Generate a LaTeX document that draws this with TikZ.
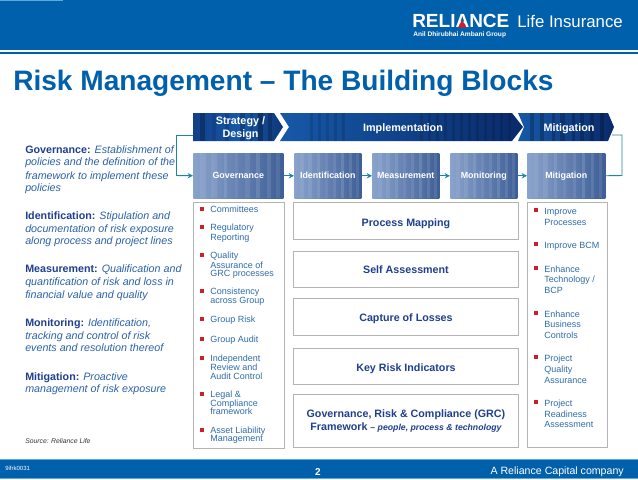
\documentclass[tikz,border=0pt]{standalone}
\usepackage{fontspec}
\setmainfont{Liberation Sans}
\usetikzlibrary{calc,arrows.meta}
\definecolor{hdr}{HTML}{0060AC}
\definecolor{hdrL}{HTML}{5FA8DC}
\definecolor{navy}{HTML}{1F3F8F}
\definecolor{midb}{HTML}{2A62A8}
\definecolor{teal}{HTML}{1A86A8}
\definecolor{boxL}{HTML}{8AA3CC}
\definecolor{boxR}{HTML}{3D5E96}
\definecolor{frame}{HTML}{B4B4B4}
\definecolor{bull}{HTML}{C8202F}
\definecolor{lst}{HTML}{2F6CA8}
\definecolor{banA}{HTML}{123F8A}
\definecolor{banB}{HTML}{1659A8}
\definecolor{banC}{HTML}{0F3678}
\definecolor{banD}{HTML}{0A2A6A}
\newcommand{\fpx}[1]{\fontsize{\dimexpr#1pt*3/4\relax}{\dimexpr#1pt*3/4\relax}\selectfont}
\tikzset{
  x=0.75pt,y=-0.75pt,
  stripebox/.style={inner sep=0pt,anchor=north west,minimum height=33.75pt,
    text=white,font=\fpx{8.9}\bfseries,left color=boxL,right color=boxR,
    path picture={
      \foreach \a/\b/\o in {.08/.14/.07,.2/.26/.09,.34/.38/.10,.46/.5/.07,.58/.63/.09,.7/.74/.12,.82/.86/.10,.92/.96/.09}{
        \fill[white,opacity=\o] ($(path picture bounding box.north west)!\a!(path picture bounding box.north east)$)
          rectangle ($(path picture bounding box.south west)!\b!(path picture bounding box.south east)$);}
    }},
  framebox/.style={draw=frame,line width=0.7pt,fill=white,inner sep=0pt,anchor=north west},
  midtext/.style={font=\fpx{10.7}\bfseries,text=navy,align=center},
  lead/.style={anchor=base west,inner sep=0pt,font=\fpx{10.7},text=midb},
  item/.style={anchor=base west,inner sep=0pt,font=\fpx{9},text=lst,align=left},
  bulletmark/.style={fill=bull,inner sep=0pt,minimum size=2.8pt},
  flow/.style={draw=teal,line width=0.7pt,-{Stealth[length=4pt,width=4pt]}},
  flowplain/.style={draw=teal,line width=0.7pt},
  bannertext/.style={text=white,font=\fpx{10.8}\bfseries,align=center,inner sep=0pt},
}
\newcommand{\leadline}[4]{\node[lead] (#1) at (25,#2) {#3#4};}
\newcommand{\citem}[4]{\node[bulletmark] (#1b) at (#2-8.3,#3-3.7) {};\node[item] (#1) at (#2,#3) {#4};}
\begin{document}
\begin{tikzpicture}
\useasboundingbox (0,0) rectangle (638,479);
\fill[white] (0,0) rectangle (638,479);
% header
\fill[hdr] (0,0) rectangle (638,50);
\fill[hdrL] (0,0) rectangle (63,1.2);
\fill[hdr] (0,52) rectangle (638,54);
% logo
\node[anchor=base west,inner sep=0pt,text=white,font=\fpx{19}\bfseries] (logoa) at (412,27.5) {RELIANCE};
\fill[bull] (458,27.5) -- (462.2,20) -- (466.4,27.5) -- cycle;
\node[anchor=base west,inner sep=0pt,text=white,font=\fpx{16.8}] (logob) at (517,27.5) {Life Insurance};
\node[anchor=base west,inner sep=0pt,text=white,font=\fpx{6.6}\bfseries] (logoc) at (413,36.5) {Anil Dhirubhai Ambani Group};
% title
\node[anchor=base west,inner sep=0pt,text=hdr,font=\fpx{28.1}\bfseries] (title) at (13,90) {Risk Management – The Building Blocks};
% banners
\begin{scope}
\clip (193,113) -- (274,113) -- (283,127) -- (274,141) -- (193,141) -- cycle;
\shade[left color=banA,right color=banB] (193,113) rectangle (240,141);
\shade[left color=banB,right color=banC] (240,113) rectangle (284,141);
\foreach \a/\b/\o in {200/205/.25,212/216/.10,225/229/.15,240/245/.25,250/253/.15,258/263/.3,268/272/.2}{\fill[black,opacity=\o] (\a,113) rectangle (\b,141);}
\end{scope}
\begin{scope}
\clip (280,113) -- (512,113) -- (523,127) -- (512,141) -- (280,141) -- (289,127) -- cycle;
\shade[left color=banB,right color=banD] (280,113) rectangle (523,141);
\foreach \a in {310,318,326,334,342,420,428,436,444,452,460,468,476,484,492,500,508}{\fill[black,opacity=.12] (\a,113) rectangle (\a+3,141);}
\end{scope}
\begin{scope}
\clip (518,113) -- (608,113) -- (614,127) -- (608,141) -- (518,141) -- (524,127) -- cycle;
\shade[left color=banB,right color=banD] (518,113) rectangle (614,141);
\foreach \a/\b in {530/534,540/544,552/555,560/565,572/575,580/584,590/594,600/604}{\fill[black,opacity=.22] (\a,113) rectangle (\b,141);}
\end{scope}
\node[bannertext] (bs) at (240.5,128) {Strategy /\\[2pt]Design};
\node[bannertext] (bi) at (403,128.5) {Implementation};
\node[bannertext] (bm) at (569,128.5) {Mitigation};
\coordinate (bsl) at (193,135);
\coordinate (bmr) at (612,135);
% step boxes
\node[stripebox,minimum width=67.5pt] (gov) at (193,153) {Governance};
\node[stripebox,minimum width=50.25pt] (ide) at (294,153) {Identification};
\node[stripebox,minimum width=50.25pt] (mea) at (372,153) {Measurement};
\node[stripebox,minimum width=50.25pt] (mon) at (450,153) {Monitoring};
\node[stripebox,minimum width=58.5pt] (mit) at (527,153) {Mitigation};
% connectors
\coordinate (cl) at (176,135);
\coordinate (cl2) at (176,175.5);
\coordinate (cr) at (622,135);
\coordinate (cr2) at (622,175.5);
\draw[flowplain] (bsl) -- (cl) -- (cl2);
\draw[flow] (cl2) -- (gov.west);
\draw[flow] (gov.east) -- (ide.west);
\draw[flow] (ide.east) -- (mea.west);
\draw[flow] (mea.east) -- (mon.west);
\draw[flow] (mon.east) -- (mit.west);
\draw[flowplain] (mit.east) -- (cr2) -- (cr) -- (bmr);
% left column text
\leadline{g1}{153.3}{\textbf{\textcolor{navy}{Governance:} }}{\textit{Establishment of}}
\leadline{g2}{165.7}{}{\textit{policies and the definition of the}}
\leadline{g3}{179}{}{\textit{framework to implement these}}
\leadline{g4}{191.7}{}{\textit{policies}}
\leadline{i1}{219.3}{\textbf{\textcolor{navy}{Identification:} }}{\textit{Stipulation and}}
\leadline{i2}{232}{}{\textit{documentation of risk exposure}}
\leadline{i3}{244.3}{}{\textit{along process and project lines}}
\leadline{m1}{272}{\textbf{\textcolor{navy}{Measurement:} }}{\textit{Qualification and}}
\leadline{m2}{285.7}{}{\textit{quantification of risk and loss in}}
\leadline{m3}{298}{}{\textit{financial value and quality}}
\leadline{o1}{326}{\textbf{\textcolor{navy}{Monitoring:} }}{\textit{Identification,}}
\leadline{o2}{339}{}{\textit{tracking and control of risk}}
\leadline{o3}{351}{}{\textit{events and resolution thereof}}
\leadline{t1}{380}{\textbf{\textcolor{navy}{Mitigation:} }}{\textit{Proactive}}
\leadline{t2}{392}{}{\textit{management of risk exposure}}
\node[anchor=base west,inner sep=0pt,font=\fpx{6.8}\itshape,text=black!80] (src) at (25,443) {Source: Reliance Life};
% frames
\node[framebox,minimum width=68.25pt,minimum height=184.5pt] (fl) at (193,202) {};
\node[framebox,minimum width=168.3pt,minimum height=27.75pt,midtext] (p1) at (293.3,202) {\raisebox{0pt}[8pt][0pt]{Process Mapping}};
\node[framebox,minimum width=168.3pt,minimum height=27pt,midtext] (p2) at (293.3,251) {Self Assessment};
\node[framebox,minimum width=168.3pt,minimum height=27.75pt,midtext] (p3) at (293.3,298) {\raisebox{0pt}[7pt][0pt]{Capture of Losses}};
\node[framebox,minimum width=168.3pt,minimum height=27pt,midtext] (p4) at (293.3,348) {\raisebox{0pt}[7pt][0pt]{Key Risk Indicators}};
\node[framebox,minimum width=168.3pt,minimum height=39.75pt,midtext] (p5) at (293.3,394) {Governance, Risk \& Compliance (GRC)\\[1.6pt]Framework {\fpx{8.7}\itshape – people, process \& technology}};
\node[framebox,minimum width=59.6pt,minimum height=183.75pt] (fr) at (527.3,202) {};
% left list
\begin{scope}[yshift=-0.5pt]
\citem{a1}{210}{211.7}{Committees}
\citem{a2}{210}{230}{Regulatory}
\node[item] (a2x) at (210,240) {Reporting};
\citem{a3}{210}{258}{Quality}
\node[item] (a3x) at (210,267.5) {Assurance of};
\node[item] (a3y) at (210,276) {GRC processes};
\citem{a4}{210}{294}{Consistency}
\node[item] (a4x) at (210,303) {across Group};
\citem{a5}{210}{322}{Group Risk}
\citem{a6}{210}{342}{Group Audit}
\citem{a7}{210}{361}{Independent}
\node[item] (a7x) at (210,370) {Review and};
\node[item] (a7y) at (210,378.5) {Audit Control};
\citem{a8}{210}{397}{Legal \&}
\node[item] (a8x) at (210,405.5) {Compliance};
\node[item] (a8y) at (210,413.5) {framework};
\citem{a9}{210}{433}{Asset Liability}
\node[item] (a9x) at (210,441) {Management};
\end{scope}
% right list
\citem{b1}{544}{214}{Improve}
\node[item] (b1x) at (544,225) {Processes};
\citem{b2}{544}{248}{Improve BCM}
\citem{b3}{544}{272}{Enhance}
\node[item] (b3x) at (544,282.5) {Technology /};
\node[item] (b3y) at (544,293) {BCP};
\citem{b4}{544}{317}{Enhance}
\node[item] (b4x) at (544,327) {Business};
\node[item] (b4y) at (544,338) {Controls};
\citem{b5}{544}{361}{Project}
\node[item] (b5x) at (544,372) {Quality};
\node[item] (b5y) at (544,383) {Assurance};
\citem{b6}{544}{406}{Project}
\node[item] (b6x) at (544,417) {Readiness};
\node[item] (b6y) at (544,427) {Assessment};
% footer
\fill[hdrL] (0,459) rectangle (638,460);
\fill[hdr] (0,460) rectangle (638,477.5);
\fill[hdrL] (0,477.5) rectangle (638,479);
\node[anchor=base west,inner sep=0pt,text=white,font=\fpx{6}] (fa) at (5,470.5) {9ifrk0031};
\node[anchor=base,inner sep=0pt,text=white,font=\fpx{10}\bfseries] (fb) at (318,475) {2};
\node[anchor=base east,inner sep=0pt,text=white,font=\fpx{10.6}] (fc) at (624,474) {A Reliance Capital company};
\end{tikzpicture}
\end{document}
